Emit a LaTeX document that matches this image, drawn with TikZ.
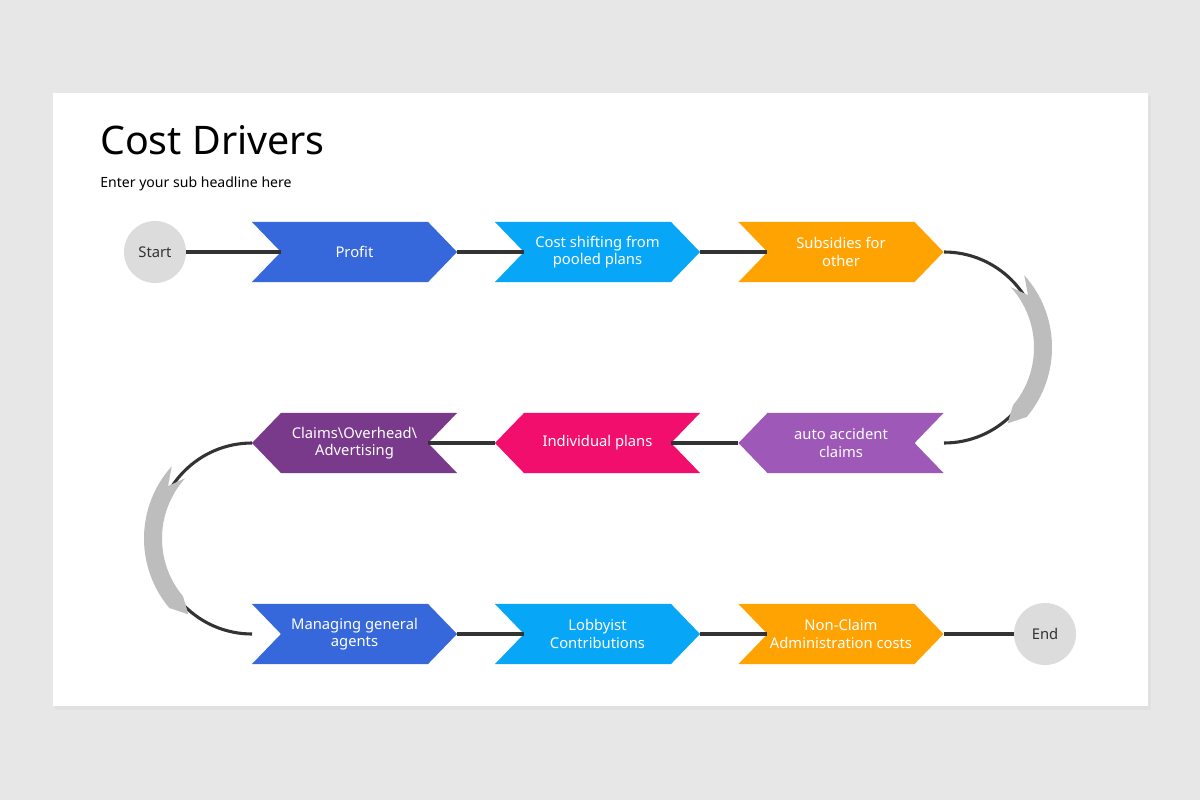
\documentclass[tikz,border=0pt]{standalone}
\usepackage{fontspec}
\setmainfont{Noto Sans}
\usetikzlibrary{shapes.symbols,positioning,calc}
\definecolor{bgcolor}{HTML}{E8E7E8}
\definecolor{linecolor}{HTML}{333333}
\definecolor{bandcolor}{HTML}{BDBDBD}
\definecolor{circcolor}{HTML}{DCDCDC}
\definecolor{cblue}{HTML}{3768DB}
\definecolor{ccyan}{HTML}{08A6F6}
\definecolor{corange}{HTML}{FFA303}
\definecolor{clilac}{HTML}{9D58B8}
\definecolor{cpink}{HTML}{F20E6C}
\definecolor{cplum}{HTML}{7A3A8C}

\begin{document}
\begin{tikzpicture}[x=0.025cm, y=-0.025cm, font=\fontsize{10.5}{12.5}\selectfont,
  chev/.style={signal, signal pointer angle=92, minimum width=5.125cm,
    minimum height=1.5cm, inner sep=0pt, text=white, align=center, draw=none},
  fwd/.style={chev, signal to=east, signal from=west},
  bwd/.style={chev, signal to=west, signal from=east},
  ends/.style={circle, fill=circcolor, minimum size=1.55cm, inner sep=0pt,
    text=linecolor, font=\fontsize{10.5}{12.5}\selectfont\bfseries},
  link/.style={linecolor, line width=2.2pt},
  band/.style={fill=bandcolor, draw=none}]
  % page and card
  \fill[bgcolor] (0,0) rectangle (1200,800);
  \fill[black!12] (55,96) rectangle (1151,710);
  \fill[white] (53,93) rectangle (1148,706);
  \node[anchor=base west, inner sep=0pt, font=\fontsize{28}{32}\selectfont] (title) at (100,155) {Cost Drivers};
  \node[anchor=base west, inner sep=0pt, font=\fontsize{10}{12}\selectfont] (sub) at (100,188) {Enter your sub headline here};
  % connector arcs and turning bands
  \coordinate (rc) at (944,347.5);
  \coordinate (lc) at (252,538.5);
  \draw[link] (944,252) arc[start angle=-90, end angle=90, radius=95.5];
  \draw[link] (252,443) arc[start angle=-90, end angle=-270, radius=95.5];
  \fill[band] ($(rc)+(40:108)$) arc[start angle=40, end angle=-42, radius=108]
    -- ($(rc)+(-32:99)$) -- ($(rc)+(-42:90)$) arc[start angle=-42, end angle=40, radius=90]
    -- ($(rc)+(50:99)$) -- cycle;
  \fill[band] ($(lc)+(140:108)$) arc[start angle=140, end angle=222, radius=108]
    -- ($(lc)+(212:99)$) -- ($(lc)+(222:90)$) arc[start angle=222, end angle=140, radius=90]
    -- ($(lc)+(130:99)$) -- cycle;
  % row 1
  \node[ends] (start) at (155,252) {Start};
  \node[fwd, fill=cblue] (profit) at (354.5,252) {Profit};
  \node[fwd, fill=ccyan] (shift) at (597.5,252) {Cost shifting from\\pooled plans};
  \node[fwd, fill=corange] (subs) at (841,252) {Subsidies for\\other};
  % row 2
  \node[bwd, fill=clilac] (auto) at (841,443) {auto accident\\claims};
  \node[bwd, fill=cpink] (indiv) at (597.5,443) {Individual plans};
  \node[bwd, fill=cplum] (claims) at (354.5,443) {Claims\textbackslash Overhead\textbackslash\\Advertising};
  % row 3
  \node[fwd, fill=cblue] (manag) at (354.5,634) {Managing general\\agents};
  \node[fwd, fill=ccyan] (lobby) at (597.5,634) {Lobbyist\\Contributions};
  \node[fwd, fill=corange] (noncl) at (841,634) {Non-Claim\\Administration costs};
  \node[ends] (end) at (1045,634) {End};
  % connectors
  \draw[link] (start.east) -- (profit.west);
  \draw[link] (profit.east) -- (shift.west);
  \draw[link] (shift.east) -- (subs.west);
  \draw[link] (auto.west) -- (indiv.east);
  \draw[link] (indiv.west) -- (claims.east);
  \draw[link] (manag.east) -- (lobby.west);
  \draw[link] (lobby.east) -- (noncl.west);
  \draw[link] (noncl.east) -- (end.west);
\end{tikzpicture}
\end{document}
